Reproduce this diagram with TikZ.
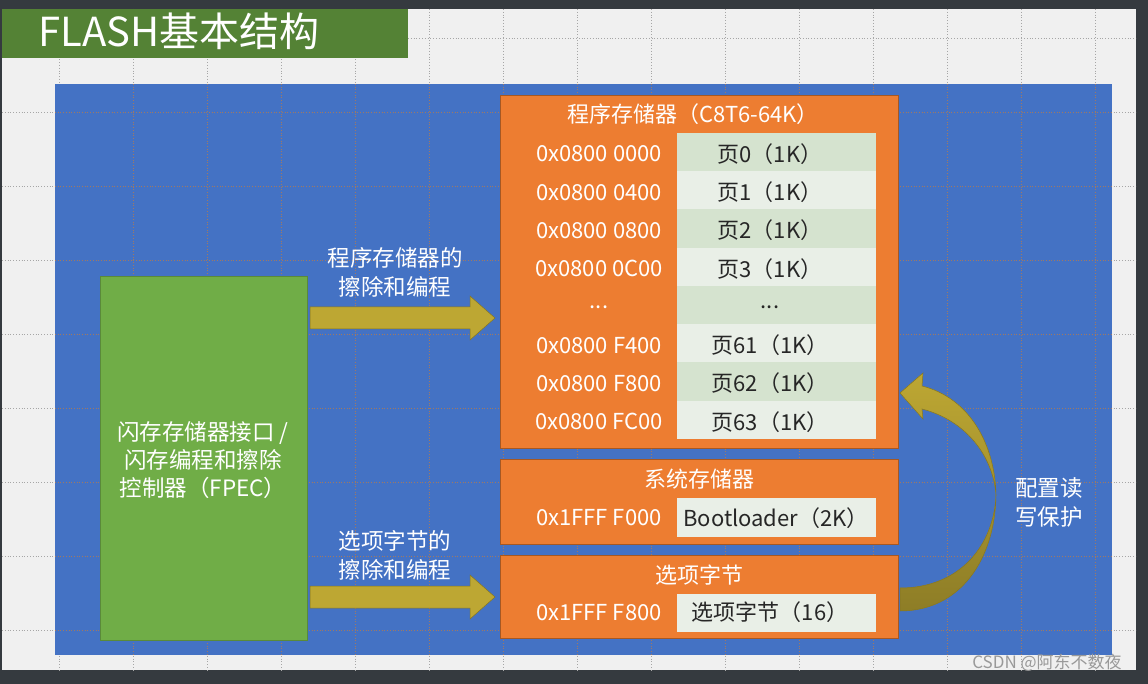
\documentclass[tikz,border=0pt]{standalone}
\usepackage{fontspec}
\setmainfont{Noto Sans CJK SC}
\definecolor{frame}{HTML}{353A3F}
\definecolor{bgc}{HTML}{F0F0F0}
\definecolor{ttl}{HTML}{548235}
\definecolor{blu}{HTML}{4472C4}
\definecolor{org}{HTML}{ED7D31}
\definecolor{grn}{HTML}{70AD47}
\definecolor{cd}{HTML}{D5E3CF}
\definecolor{cl}{HTML}{E9EFE7}
\definecolor{oli}{HTML}{BDA733}
\newcommand\mydots{...}
\tikzset{
 ob/.style={fill=org,draw=org!70!black,line width=0.6pt},
 wt/.style={text=white,font=\fontsize{22}{26}\selectfont},
 bt/.style={text=black!85,font=\fontsize{22}{26}\selectfont},
 lbl/.style={text=white,align=center,font=\fontsize{22.5}{29}\selectfont},
 blk/.style={fill=oli,draw=oli!70!black,line width=0.5pt},
}
\begin{document}
\begin{tikzpicture}[x=1pt,y=-1pt]
\useasboundingbox (0,0) rectangle (1148,684);
\fill[frame] (0,0) rectangle (1148,684);
\fill[bgc] (2,9) rectangle (1136,670);
\foreach \x in {59,133,...,1100} \draw[gray!70,dotted,line width=0.8pt] (\x,9)--(\x,670);
\foreach \y in {38,112,...,670} \draw[gray!70,dotted,line width=0.8pt] (2,\y)--(1136,\y);
\fill[ttl] (2,9) rectangle (408,58);
\node[anchor=west,text=white,font=\fontsize{40}{46}\selectfont] (title) at (35,31) {FLASH基本结构};
\fill[blu] (55,84) rectangle (1112,655);
\foreach \x in {133,207,...,1100} \draw[orange!50!blu,dotted,line width=0.7pt] (\x,84)--(\x,655);
\foreach \y in {112,186,...,650} \draw[orange!50!blu,dotted,line width=0.7pt] (55,\y)--(1112,\y);
% green
\node[fill=grn,draw=grn!80!black,minimum width=207pt,minimum height=364pt,inner sep=0pt] (fpec) at (203.5,458) {};
\node[lbl,font=\fontsize{22.5}{28}\selectfont] (fpect) at (203,460) {闪存存储器接口 /\\闪存编程和擦除\\控制器（FPEC）};
% orange boxes
\node[ob,minimum width=398pt,minimum height=353pt,inner sep=0pt] (prog) at (699,271.5) {};
\node[ob,minimum width=398pt,minimum height=85pt,inner sep=0pt] (sys) at (699,501.5) {};
\node[ob,minimum width=398pt,minimum height=83pt,inner sep=0pt] (opt) at (699,596.5) {};
\node[wt] (progt) at (693,114) {程序存储器（C8T6-64K）};
\node[wt] (syst) at (699,479) {系统存储器};
\node[wt] (optt) at (699,575) {选项字节};
% cells
\foreach \i/\a/\p/\c in {0/0x0800 0000/页0（1K）/cd,1/0x0800 0400/页1（1K）/cl,2/0x0800 0800/页2（1K）/cd,3/0x0800 0C00/页3（1K）/cl,4/\mydots/\mydots/cd,5/0x0800 F400/页61（1K）/cl,6/0x0800 F800/页62（1K）/cd,7/0x0800 FC00/页63（1K）/cl}{
 \fill[\c] (677,133+38.25*\i) rectangle (876,171.25+38.25*\i);
 \node[wt] (a\i) at (599,154+38.25*\i) {\a};
 \node[bt] (p\i) at (770,154+38.25*\i) {\p};
}
\fill[cl] (677,498) rectangle (876,537);
\node[wt] (sysa) at (599,518) {0x1FFF F000};
\node[bt] (sysp) at (776,518) {Bootloader（2K）};
\fill[cl] (677,594) rectangle (876,632);
\node[wt] (opta) at (599,613) {0x1FFF F800};
\node[bt] (optp) at (770,612) {选项字节（16）};
% block arrows
\foreach \yy in {318,597}{
 \path[blk] (310,\yy-11)--(470,\yy-11)--(470,\yy-22)--(495,\yy)--(470,\yy+22)--(470,\yy+11)--(310,\yy+11)--cycle;
}
\node[lbl] (l1) at (395,272) {程序存储器的\\擦除和编程};
\node[lbl] (l2) at (395,555) {选项字节的\\擦除和编程};
% curved arrow
\path[blk,top color=oli,bottom color=oli!75!black] (900,588) .. controls (960,588) and (994,545) .. (996,495)
 .. controls (993,455) and (965,420) .. (922,409) -- (923,419) -- (900,393) -- (923,373) -- (922,386)
 .. controls (970,398) and (995,445) .. (996,495)
 .. controls (995,560) and (960,611) .. (900,611) -- cycle;
\node[lbl] (l3) at (1049,502) {配置读\\写保护};
\node[text=gray!80,font=\fontsize{17}{20}\selectfont] (wm) at (1047,663) {CSDN @阿东不数夜};
\end{tikzpicture}
\end{document}
